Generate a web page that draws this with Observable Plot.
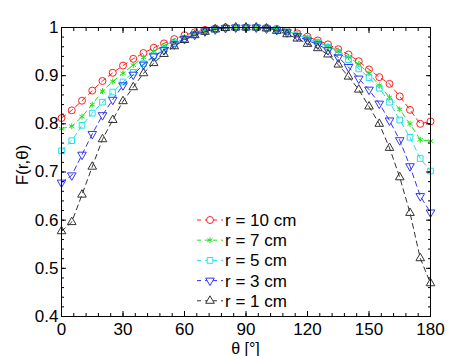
<!DOCTYPE html>
<html><head><meta charset="utf-8">
<script src="https://cdn.jsdelivr.net/npm/d3@7"></script>
<script src="https://cdn.jsdelivr.net/npm/@observablehq/plot@0.6"></script>
<style>body{margin:0;background:#fff}#chart{position:relative}</style>
</head><body><div id="chart"></div>
<script>
const theta = [0,5,10,15,20,25,30,35,40,45,50,55,60,65,70,75,80,85,90,95,100,105,110,115,120,125,130,135,140,145,150,155,160,165,170,175,180];
const f10 = [0.812,0.828,0.848,0.869,0.889,0.906,0.921,0.935,0.947,0.958,0.967,0.976,0.984,0.990,0.995,0.998,1.000,1.000,1.000,1.000,0.999,0.997,0.993,0.988,0.981,0.973,0.965,0.955,0.944,0.930,0.913,0.897,0.883,0.857,0.829,0.800,0.805];
const f7 = [0.790,0.795,0.815,0.840,0.868,0.888,0.905,0.922,0.938,0.951,0.962,0.972,0.980,0.988,0.993,0.997,0.999,1.000,1.000,1.000,0.999,0.997,0.992,0.986,0.979,0.971,0.961,0.951,0.939,0.924,0.905,0.880,0.855,0.830,0.800,0.767,0.764];
const f5 = [0.744,0.765,0.797,0.822,0.845,0.866,0.887,0.907,0.925,0.941,0.955,0.967,0.977,0.986,0.992,0.996,0.999,1.000,1.000,1.000,0.999,0.996,0.991,0.985,0.977,0.969,0.959,0.948,0.933,0.914,0.896,0.874,0.845,0.808,0.772,0.728,0.702];
const f3 = [0.678,0.693,0.736,0.779,0.818,0.850,0.880,0.902,0.923,0.940,0.953,0.965,0.976,0.985,0.992,0.996,0.999,1.000,1.000,1.000,0.998,0.995,0.990,0.982,0.973,0.965,0.953,0.938,0.918,0.894,0.871,0.842,0.807,0.766,0.712,0.650,0.616];
const f1 = [0.577,0.596,0.653,0.711,0.768,0.808,0.847,0.876,0.905,0.926,0.945,0.961,0.974,0.984,0.991,0.996,0.999,1.000,1.000,1.000,0.998,0.993,0.986,0.977,0.966,0.957,0.944,0.923,0.898,0.871,0.836,0.800,0.750,0.689,0.615,0.521,0.469];
const labels = ["r = 10 cm","r = 7 cm","r = 5 cm","r = 3 cm","r = 1 cm"];
const xTitle = "θ [°]";
const yTitle = "F(r,θ)";
const xTicks = [0,30,60,90,120,150,180];
const yTicks = [0.4,0.5,0.6,0.7,0.8,0.9,1.0];
const xMinor = d3.range(0, 180.001, 6);
const yMinor = d3.range(0.4, 1.0001, 0.02);

const triangleDown = {
  draw(context, size) {
    const y = -Math.sqrt(size / (Math.sqrt(3) * 3));
    context.moveTo(0, -y * 2);
    context.lineTo(-Math.sqrt(3) * y, y);
    context.lineTo(Math.sqrt(3) * y, y);
    context.closePath();
  }
};
const styles = [
  {color:"#ff2020", symbol:"circle", d3sym:d3.symbolCircle, fill:"none", r:3.5, dash:"5,4"},
  {color:"#22e022", symbol:"asterisk", d3sym:d3.symbolAsterisk, fill:"#22e022", r:2.8, dash:"5,4"},
  {color:"#20e0ea", symbol:"square", d3sym:d3.symbolSquare, fill:"none", r:3.2, dash:"5,4"},
  {color:"#3535f0", symbol:triangleDown, d3sym:triangleDown, fill:"none", r:3.2, dash:"5,4"},
  {color:"#333333", symbol:"triangle", d3sym:d3.symbolTriangle, fill:"none", r:3.2, dash:"5,4"}
];
const values = [f10, f7, f5, f3, f1];

const W = 474, H = 356, mL = 61, mR = 44, mT = 27, mB = 40;
const fmtY = d => String(+d.toFixed(1));
const marks = [];
values.forEach((vals, k) => {
  const s = styles[k];
  marks.push(Plot.line(theta, {x: d => d, y: (d, i) => vals[i], stroke: s.color, strokeWidth: 1, strokeDasharray: s.dash}));
  marks.push(Plot.dot(theta, {x: d => d, y: (d, i) => vals[i], stroke: s.color, fill: s.fill, symbol: s.symbol, r: s.r, strokeWidth: 1}));
});
const blank = () => "";
marks.push(
  Plot.axisY({ticks: yTicks, anchor: "left", tickSize: 0, tickPadding: 3, tickFormat: fmtY, label: null}),
  Plot.axisY({ticks: yTicks, anchor: "left", tickSize: 5, dx: 5, tickFormat: blank, label: null}),
  Plot.axisY({ticks: yMinor, anchor: "left", tickSize: 3, dx: 3, tickFormat: blank, label: null}),
  Plot.axisY({ticks: yTicks, anchor: "right", tickSize: 5, dx: -5, tickFormat: blank, label: null}),
  Plot.axisY({ticks: yMinor, anchor: "right", tickSize: 3, dx: -3, tickFormat: blank, label: null}),
  Plot.axisX({ticks: xTicks, anchor: "bottom", tickSize: 0, tickPadding: 6, label: null}),
  Plot.axisX({ticks: xTicks, anchor: "bottom", tickSize: 5, dy: -5, tickFormat: blank, label: null}),
  Plot.axisX({ticks: xMinor, anchor: "bottom", tickSize: 3, dy: -3, tickFormat: blank, label: null}),
  Plot.axisX({ticks: xTicks, anchor: "top", tickSize: 5, dy: 5, tickFormat: blank, label: null}),
  Plot.axisX({ticks: xMinor, anchor: "top", tickSize: 3, dy: 3, tickFormat: blank, label: null}),
  Plot.frame({stroke: "#000"})
);

const chart = Plot.plot({
  width: W, height: H,
  marginLeft: mL, marginRight: mR, marginTop: mT, marginBottom: mB,
  style: {fontFamily: "'Liberation Sans', Arial, sans-serif", fontSize: "17px", color: "#000", background: "#fff"},
  x: {domain: [0, 180]},
  y: {domain: [0.4, 1.0]},
  marks
});
document.getElementById("chart").appendChild(chart);

const svg = d3.select(chart);
const font = "'Liberation Sans', Arial, sans-serif";
// axis titles
svg.append("text").attr("x", (mL + W - mR) / 2).attr("y", 348.5).attr("dy", "0.35em")
  .attr("text-anchor", "middle").attr("font-family", font).attr("font-size", 16).attr("fill", "#000").text(xTitle);
svg.append("text").attr("transform", "translate(22,165) rotate(-90)").attr("dy", "0.35em")
  .attr("text-anchor", "middle").attr("font-family", font).attr("font-size", 17).attr("fill", "#000").text(yTitle);

// legend (inside plot area, no box)
const lg = svg.append("g").attr("font-family", font).attr("font-size", 17).attr("text-anchor", "start");
const legX = 197, legY = 220, legStep = 20.2;
labels.forEach((lab, i) => {
  const s = styles[i];
  const y = legY + i * legStep;
  lg.append("line").attr("x1", legX).attr("x2", legX + 26).attr("y1", y).attr("y2", y)
    .attr("stroke", s.color).attr("stroke-dasharray", "4,4").attr("stroke-width", 1);
  lg.append("path").attr("d", d3.symbol(s.d3sym, Math.PI * s.r * s.r)())
    .attr("transform", `translate(${legX + 13},${y})`)
    .attr("stroke", s.color).attr("fill", s.fill === "none" ? "#fff" : s.fill).attr("stroke-width", 1);
  lg.append("text").attr("x", legX + 28).attr("y", y).attr("dy", "0.35em").attr("fill", "#000").text(lab);
});
</script>
</body></html>
